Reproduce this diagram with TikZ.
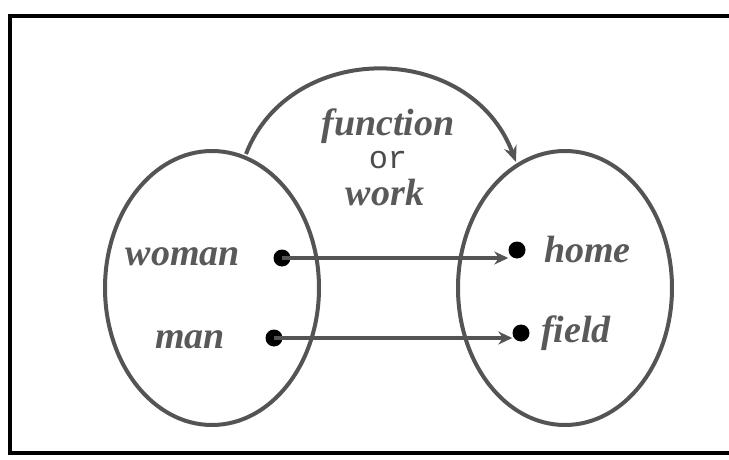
\documentclass[tikz,border=0pt]{standalone}
\usepackage{fontspec}
\setmainfont{Liberation Serif}
\newfontfamily\monof{Liberation Mono}
\usetikzlibrary{arrows.meta}
\begin{document}
\begin{tikzpicture}[x=1pt,y=-1pt,
  gl/.style={draw=black!67,line width=4pt},
  lbl/.style={text=black!65,font=\bfseries\itshape\fontsize{38}{38}\selectfont,inner sep=0pt},
  dotn/.style={circle,fill=black,inner sep=0pt,minimum size=17pt}]
\useasboundingbox (0,0) rectangle (729,460);
\draw[line width=3.5pt] (10,455) -- (10,16) -- (740,16);
\draw[line width=3.5pt] (8,453) -- (740,453);
\draw[gl] (212,288) ellipse [x radius=107,y radius=137];
\draw[gl] (565,288) ellipse [x radius=107,y radius=137];
\coordinate (s) at (246,154);
\coordinate (e) at (516,162);
\draw[gl,-{Stealth[length=16pt,width=13pt]},draw=black!67] (s) .. controls (290,40) and (470,40) .. (e);
\node[lbl] (fn) at (388,126) {function};
\node[text=black!70,font=\monof\fontsize{32}{32}\selectfont,inner sep=0pt] (or) at (388,160) {or};
\node[lbl] (wk) at (385,193) {work};
\node[lbl] (wo) at (183,257) {woman};
\node[lbl] (mn) at (190,340) {man};
\node[lbl,anchor=west] (ho) at (544,250) {home};
\node[lbl,anchor=west] (fi) at (541,333) {field};
\node[dotn] (d1) at (282,258) {};
\node[dotn] (d2) at (274,338) {};
\node[dotn] (d3) at (517,250) {};
\node[dotn] (d4) at (521,333) {};
\draw[gl,-{Stealth[length=14pt,width=13pt]}] (d1.center) -- (d3.west|-d1.center);
\draw[gl,-{Stealth[length=14pt,width=13pt]}] (d2.center) -- (d4.west|-d2.center);
\end{tikzpicture}
\end{document}
